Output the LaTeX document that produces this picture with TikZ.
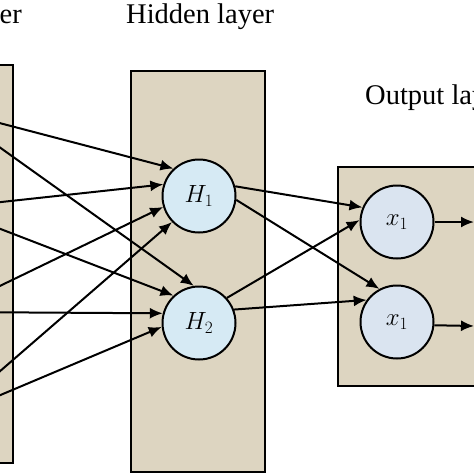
\documentclass[tikz,border=0pt]{standalone}
\usepackage{fontspec}
\setmainfont{Liberation Serif}
\usepackage{tikz}
\usetikzlibrary{arrows.meta}
\definecolor{boxtan}{RGB}{221,213,193}
\definecolor{hidblue}{RGB}{214,234,244}
\definecolor{outblue}{RGB}{218,228,240}

\tikzset{
  layerbox/.style={draw=black, fill=boxtan, line width=2pt},
  neuron/.style={circle, draw=black, line width=2pt, minimum size=73pt, inner sep=0pt, font=\fontsize{27}{29}\selectfont},
  conn/.style={line width=2pt, -{Latex[length=13pt,width=11pt]}},
  title/.style={font=\fontsize{28.5}{30}\selectfont, inner sep=0pt}
}

\begin{document}
\begin{tikzpicture}[x=1pt,y=-1pt]
	\clip (0,0) rectangle (474,474);
	% layer boxes
	\draw[layerbox] (-121,65) rectangle (13,463);
	\draw[layerbox] (131,71) rectangle (265,472);
	\draw[layerbox] (338,167) rectangle (490,386);
	% titles
	\node[title, anchor=base east] (tin) at (22,23) {Input layer};
	\node[title, anchor=base west] (thid) at (126,23) {Hidden layer};
	\node[title, anchor=base west] (tout) at (365,104) {Output layer};
	% neurons
	\foreach \i/\y in {1/109,2/208,3/312,4/418}
		\node[neuron, fill=hidblue] (I\i) at (-54,\y) {};
	\node[neuron, fill=hidblue] (H1) at (199,196) {$H_1$};
	\node[neuron, fill=hidblue] (H2) at (199,323) {$H_2$};
	\node[neuron, fill=outblue] (O1) at (397,222) {$x_1$};
	\node[neuron, fill=outblue] (O2) at (397,322) {$x_1$};
	\coordinate (y1) at (474,222);
	\coordinate (y2) at (474,326);
	% input -> hidden
	\foreach \i/\a/\b in {1/133/98,2/162/133,3/197/165,4/224/186}{
		\draw[conn] (I\i) -- (H1.\a);
		\draw[conn] (I\i) -- (H2.\b);
	}
	% hidden -> output
	\draw[conn] (H1.15) -- (O1.157);
	\draw[conn] (H1.-6) -- (O2.118);
	\draw[conn] (H2.42) -- (O1.177);
	\draw[conn] (H2.21) -- (O2.144);
	% output
	\draw[conn] (O1.0) -- (y1);
	\draw[conn] (O2.-5) -- (y2);
\end{tikzpicture}
\end{document}
